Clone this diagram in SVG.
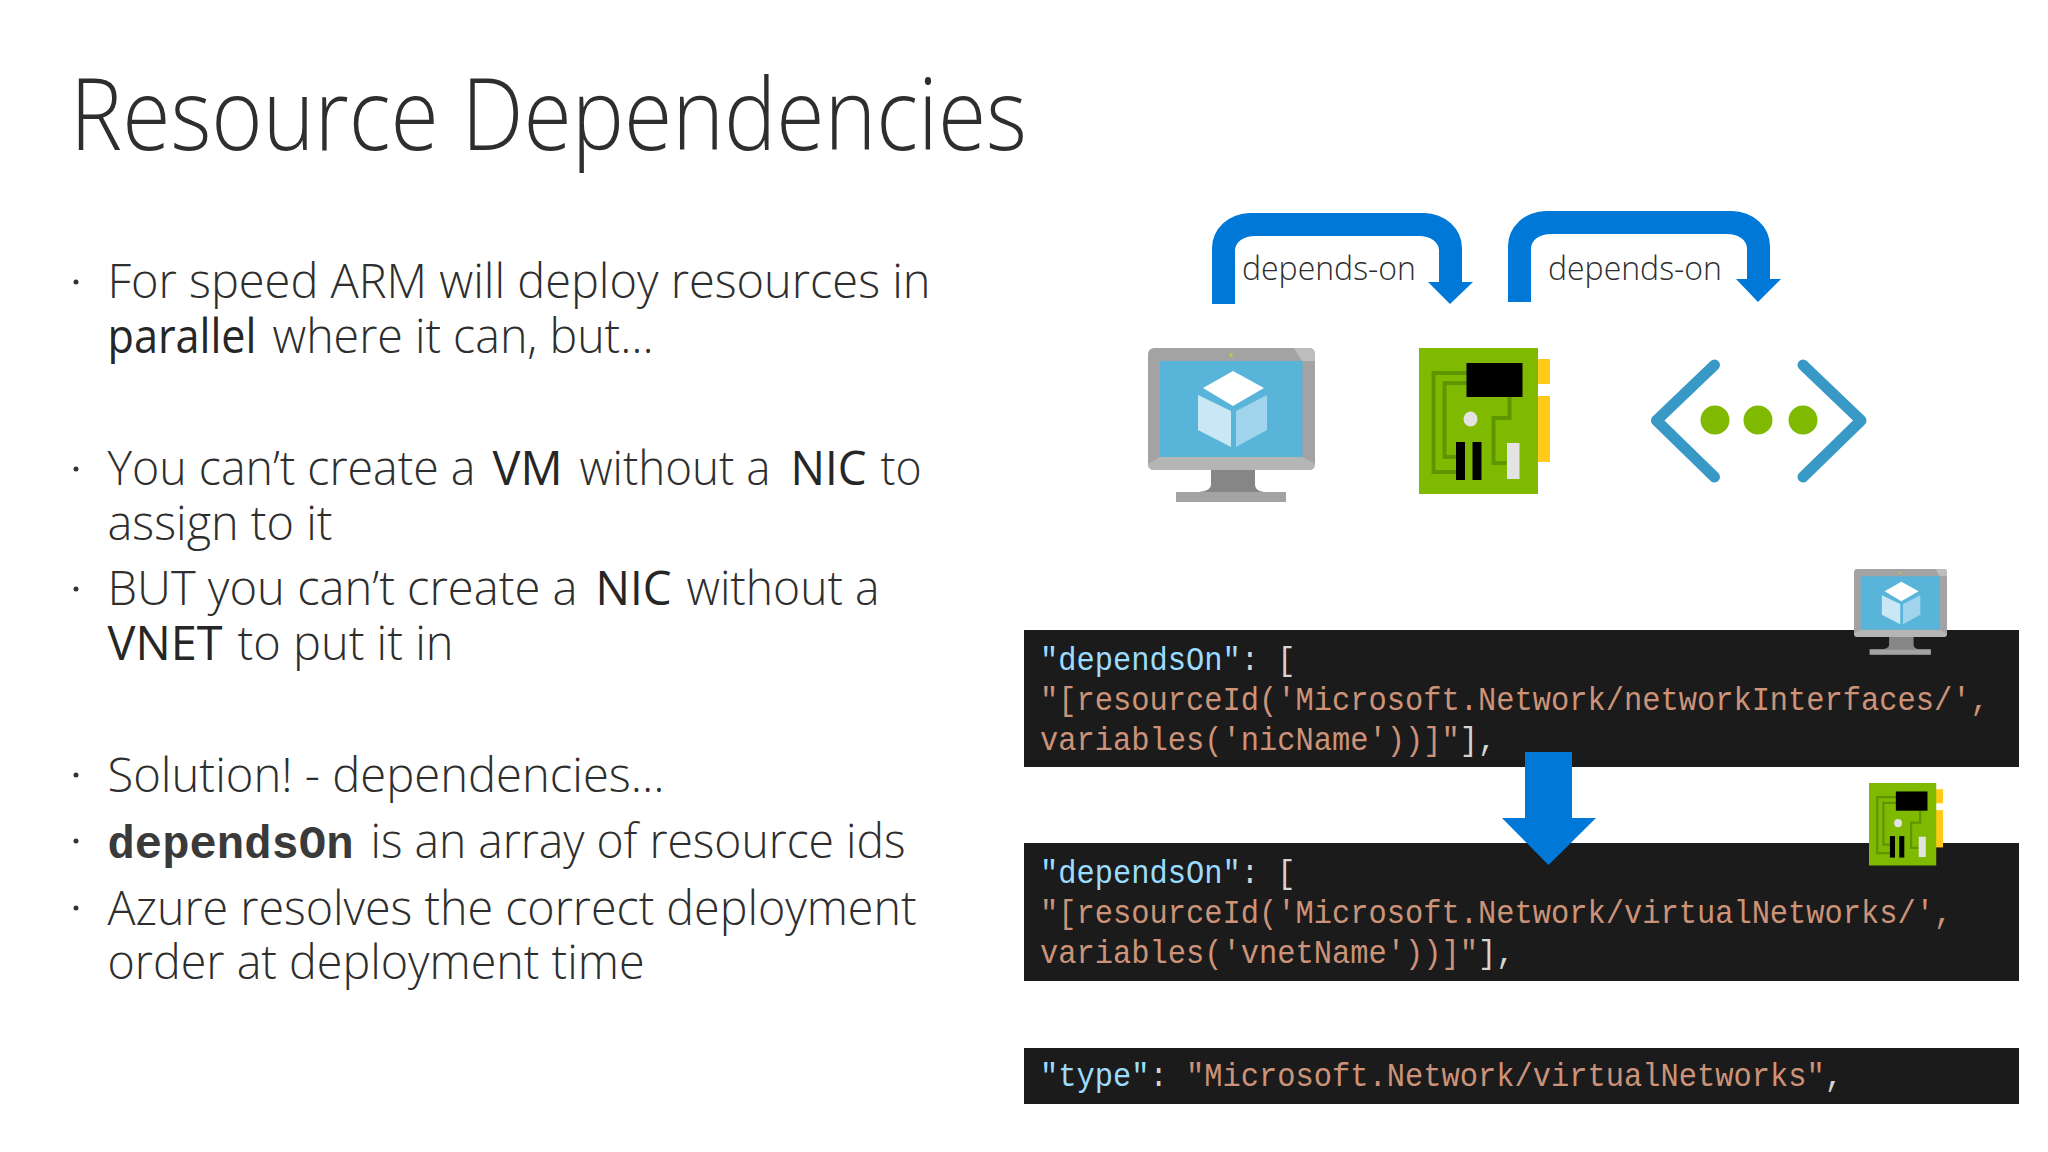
<svg xmlns="http://www.w3.org/2000/svg" width="2048" height="1152" viewBox="0 0 2048 1152">
<style>
.t{font-family:"Open Sans","Noto Sans","Liberation Sans",sans-serif;font-weight:300;fill:#2e2e2e}
.b{font-size:48px}
.s{font-weight:400;fill:#262626}
.m{font-family:"Liberation Mono","DejaVu Sans Mono",monospace;font-size:33px;fill:#d4d4d4}
.k{fill:#9cdcfe}
.v{fill:#cc9379}
.bar{fill:#1b1b1b}
.blue{fill:#0078d7}
.dep{font-size:33px}
</style>
<defs>
<g id="monitor">
<rect x="1149" y="348" width="167" height="122" rx="6" fill="#a3a3a3"/>
<path d="M1295 348H1310Q1316 348 1316 354V361H1303Z" fill="#bdbdbd"/>
<path d="M1149 464L1161 457H1303L1316 464Q1316 470 1310 470H1155Q1149 470 1149 464Z" fill="#b5b5b5"/>
<rect x="1161" y="361" width="142.500" height="96" fill="#59b4d9"/>
<circle cx="1232" cy="355" r="1.800" fill="#b8d432"/>
<path d="M1234 371L1265 388L1234 406L1204 388Z" fill="#fff"/>
<path d="M1199 395L1232 411V447L1199 430Z" fill="#c9e7f5"/>
<path d="M1268 395L1237 411V447L1268 430Z" fill="#9fd4ec"/>
<path d="M1212 470H1256V484Q1256 492 1268 492H1196Q1212 492 1212 484Z" fill="#868686"/>
<rect x="1177" y="492" width="110" height="10" fill="#a3a3a3"/>
</g>
<g id="nic">
<rect x="1539" y="359" width="12.500" height="25" fill="#ffca1a"/>
<rect x="1539" y="396" width="12.500" height="66" fill="#ffca1a"/>
<rect x="1420.500" y="348" width="119" height="146" fill="#7fba00"/>
<g fill="none" stroke="#5e9600" stroke-width="4">
<path d="M1470 373H1435V472H1458"/>
<path d="M1470 383H1446V457H1458"/>
<path d="M1511 397V418H1495V463H1508"/>
</g>
<rect x="1468" y="363" width="56" height="34" fill="#000"/>
<ellipse cx="1472" cy="419" rx="7" ry="7.500" fill="#e3e3e3"/>
<rect x="1457.500" y="442" width="9" height="38" fill="#000"/>
<rect x="1474" y="442" width="9" height="38" fill="#000"/>
<rect x="1508.500" y="443" width="12.500" height="36" fill="#e3e3e3"/>
</g>
</defs>
<rect width="2048" height="1152" fill="#fff"/>
<text id="title" class="t" x="70" y="150" font-size="100" textLength="957" lengthAdjust="spacingAndGlyphs">Resource Dependencies</text>
<g id="bullets" fill="#333">
<circle cx="76" cy="282" r="2.500"/><circle cx="76" cy="469" r="2.500"/><circle cx="76" cy="589" r="2.500"/><circle cx="76" cy="775" r="2.500"/><circle cx="76" cy="841" r="2.500"/><circle cx="76" cy="908" r="2.500"/>
</g>
<g id="body" class="t b" transform="translate(1 0)">
<text x="106.500" y="298" textLength="823" lengthAdjust="spacingAndGlyphs">For speed ARM will deploy resources in</text>
<text class="s" x="106.500" y="353" textLength="149" lengthAdjust="spacingAndGlyphs">parallel</text>
<text x="271.500" y="353" textLength="381" lengthAdjust="spacingAndGlyphs">where it can, but…</text>
<text x="106.500" y="485" textLength="368" lengthAdjust="spacingAndGlyphs">You can’t create a</text>
<text class="s" x="491.500" y="485" textLength="70" lengthAdjust="spacingAndGlyphs">VM</text>
<text x="578.500" y="485" textLength="191" lengthAdjust="spacingAndGlyphs">without a</text>
<text class="s" x="789.500" y="485" textLength="76" lengthAdjust="spacingAndGlyphs">NIC</text>
<text x="879.500" y="485" textLength="41" lengthAdjust="spacingAndGlyphs">to</text>
<text x="106.500" y="540" textLength="225" lengthAdjust="spacingAndGlyphs">assign to it</text>
<text x="106.500" y="605" textLength="470" lengthAdjust="spacingAndGlyphs">BUT you can’t create a</text>
<text class="s" x="594.500" y="605" textLength="76" lengthAdjust="spacingAndGlyphs">NIC</text>
<text x="685.500" y="605" textLength="193" lengthAdjust="spacingAndGlyphs">without a</text>
<text class="s" x="106.500" y="660" textLength="115" lengthAdjust="spacingAndGlyphs">VNET</text>
<text x="236.500" y="660" textLength="216" lengthAdjust="spacingAndGlyphs">to put it in</text>
<text x="106.500" y="792" textLength="557" lengthAdjust="spacingAndGlyphs">Solution! - dependencies…</text>
<text x="106.500" y="858" textLength="246" lengthAdjust="spacingAndGlyphs" style="font-family:'Liberation Mono','DejaVu Sans Mono',monospace;font-weight:700;font-size:46px;fill:#3a3a3a">dependsOn</text>
<text x="369.500" y="858" textLength="535" lengthAdjust="spacingAndGlyphs">is an array of resource ids</text>
<text x="106.500" y="925" textLength="809" lengthAdjust="spacingAndGlyphs">Azure resolves the correct deployment</text>
<text x="106.500" y="979" textLength="537" lengthAdjust="spacingAndGlyphs">order at deployment time</text>
</g>
<g id="code-vm">
<rect class="bar" x="1024" y="630" width="995" height="137"/>
<text class="m" transform="translate(1040 670) scale(.922 1)"><tspan class="k">"dependsOn"</tspan>: [</text>
<text class="m v" transform="translate(1040 710) scale(.922 1)">"[resourceId('Microsoft.Network/networkInterfaces/',</text>
<text class="m" transform="translate(1040 750) scale(.922 1)"><tspan class="v">variables('nicName'))]"</tspan>],</text>
</g>
<g id="code-nic">
<rect class="bar" x="1024" y="843" width="995" height="138"/>
<text class="m" transform="translate(1040 883) scale(.922 1)"><tspan class="k">"dependsOn"</tspan>: [</text>
<text class="m v" transform="translate(1040 923) scale(.922 1)">"[resourceId('Microsoft.Network/virtualNetworks/',</text>
<text class="m" transform="translate(1040 963) scale(.922 1)"><tspan class="v">variables('vnetName'))]"</tspan>],</text>
</g>
<g id="code-vnet">
<rect class="bar" x="1024" y="1048" width="995" height="56"/>
<text class="m" transform="translate(1040 1086) scale(.922 1)"><tspan class="k">"type"</tspan>: <tspan class="v">"Microsoft.Network/virtualNetworks"</tspan>,</text>
</g>
<g id="vm-icon"><use href="#monitor" x="-1"/></g>
<g id="nic-icon"><use href="#nic" x="-1.500"/></g>
<g id="vnet-icon">
<g fill="none" stroke="#3999c6" stroke-width="11" stroke-linecap="round" stroke-linejoin="round">
<path d="M1714.500 365L1656.500 420.500L1714.500 477"/>
<path d="M1803 365L1861 420.500L1803 477"/>
</g>
<g fill="#7fba00"><circle cx="1715" cy="420" r="14.500"/><circle cx="1758" cy="420" r="14.500"/><circle cx="1803" cy="420" r="14.500"/></g>
</g>
<g id="vm-icon-small"><use href="#monitor" transform="translate(1854 569) scale(.557) translate(-1149 -348)"/></g>
<g id="nic-icon-small"><use href="#nic" transform="translate(1869 783) scale(.565) translate(-1420.500 -348)"/></g>
<g id="connectors">
<path class="blue" d="M1212 304V248A38 35 0 0 1 1250 213H1424A38 35 0 0 1 1462 248V282H1473L1450 304L1428 282H1439V250A20 14 0 0 0 1419 236H1255A20 14 0 0 0 1235 250V304Z"/>
<path class="blue" d="M1508 302V246A38 35 0 0 1 1546 211H1732A38 35 0 0 1 1770 246V279H1781L1758 302L1736 279H1747V248A20 14 0 0 0 1727 234H1551A20 14 0 0 0 1531 248V302Z"/>
<path class="blue" d="M1525 752H1572V818H1596L1548.500 865L1502 818H1525Z"/>
</g>
<g id="labels" class="t dep">
<text x="1242" y="280" textLength="174" lengthAdjust="spacingAndGlyphs">depends-on</text>
<text x="1548" y="280" textLength="174" lengthAdjust="spacingAndGlyphs">depends-on</text>
</g>
</svg>
